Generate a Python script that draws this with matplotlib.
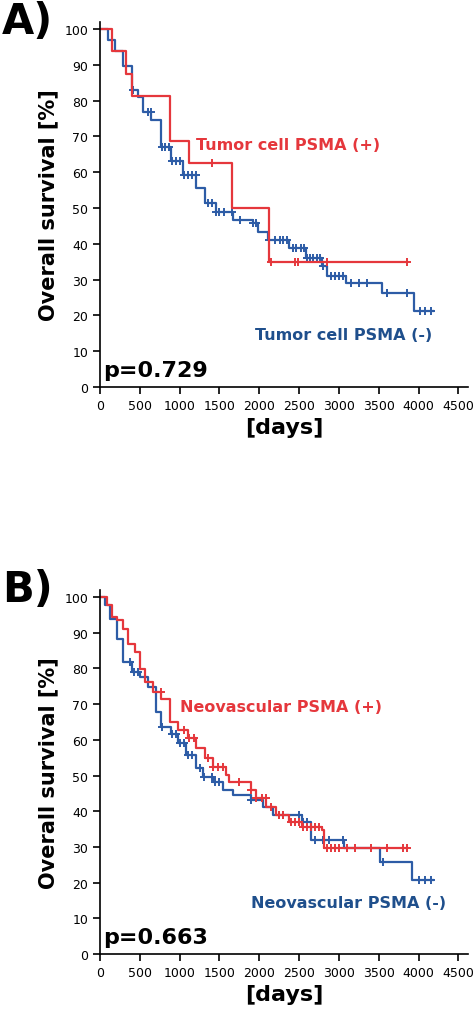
import numpy as np
import matplotlib.pyplot as plt

RED = "#E5373C"
BLUE = "#2D5CA6"
BLUE_TXT = "#1F4F8C"

# Panel A: tumor cell PSMA
a_pos_t = [0, 146, 325, 396, 875, 1112, 1658, 2125, 3850]
a_pos_s = [100, 93.75, 87.5, 81.25, 68.75, 62.5, 50, 35, 35]
a_pos_cens = [1408, 2150, 2450, 2480, 2850, 3850]

a_neg_t = [0, 100, 187, 292, 396, 479, 542, 646, 771, 896, 1042, 1208, 1312, 1458,
           1667, 1917, 1979, 2104, 2375, 2583, 2792, 2854, 3083, 3542, 3938, 4175]
a_neg_s = [100, 97, 93.8, 89.8, 83, 81, 76.8, 74.5, 67, 63, 59.2, 55.5, 51.3, 49,
           46.7, 45.7, 43.4, 41, 38.8, 36, 33.7, 30.9, 29, 26.3, 21.2, 21.2]
a_neg_cens = [420, 600, 640, 780, 820, 860, 900, 950, 1000, 1050, 1100, 1150, 1200,
              1350, 1400, 1460, 1500, 1560, 1660, 1760, 1920, 1960, 2120, 2200, 2260,
              2300, 2350, 2420, 2460, 2520, 2560, 2600, 2640, 2680, 2720, 2760, 2800,
              2900, 2950, 3000, 3050, 3150, 3250, 3350, 3600, 3600, 3850, 4020, 4080, 4150]

# Panel B: neovascular PSMA
b_pos_t = [0, 83, 146, 208, 292, 354, 437, 500, 562, 667, 771, 875, 979, 1104, 1208,
           1312, 1417, 1583, 1625, 1896, 1958, 2083, 2208, 2375, 2542, 2792, 2812, 3850]
b_pos_s = [100, 97.7, 94.4, 93.5, 91.1, 86.9, 84.6, 79.9, 76.2, 73.4, 71.5, 65, 62.7,
           60.4, 57.6, 54.8, 52.4, 50.1, 48.2, 45.9, 43.6, 41.2, 38.9, 37, 35.6, 34.7,
           29.6, 29.6]
b_pos_cens = [760, 1050, 1120, 1180, 1360, 1420, 1480, 1550, 1750, 1900, 1960, 2030,
              2080, 2150, 2250, 2300, 2400, 2450, 2500, 2550, 2600, 2650, 2700, 2750,
              2850, 2900, 2950, 3000, 3100, 3200, 3400, 3600, 3800, 3850]

b_neg_t = [0, 62, 125, 208, 292, 396, 500, 604, 708, 771, 896, 979, 1083, 1208, 1292,
           1417, 1542, 1667, 1896, 2042, 2167, 2542, 2646, 3062, 3521, 3917, 4175]
b_neg_s = [100, 97.7, 93.9, 88.3, 81.8, 79, 77.6, 74.8, 67.8, 63.6, 61.7, 59, 55.7,
           52, 49.6, 48.2, 45.9, 44.5, 43.1, 41.2, 38.9, 37, 31.9, 29.6, 25.9, 20.7, 20.7]
b_neg_cens = [380, 430, 480, 780, 900, 950, 1000, 1050, 1100, 1150, 1250, 1300, 1400,
              1450, 1500, 1900, 2250, 2300, 2500, 2550, 2600, 2700, 2800, 2870, 3050,
              3550, 4000, 4080, 4150]

x_ticks = [0, 500, 1000, 1500, 2000, 2500, 3000, 3500, 4000, 4500]
y_ticks = [0, 10, 20, 30, 40, 50, 60, 70, 80, 90, 100]


def km(ax, t, s, cens, color):
    ax.step(t, s, where="post", color=color, lw=1.6)
    idx = np.searchsorted(t, cens, side="right") - 1
    ax.plot(cens, np.array(s)[idx], "+", color=color, ms=6, mew=1.4, ls="none")


fig = plt.figure(figsize=(4.74, 10.2), dpi=100)
W, H = 474, 1020
panels = [
    (30, 388, "A)", (a_pos_t, a_pos_s, a_pos_cens), (a_neg_t, a_neg_s, a_neg_cens),
     "Tumor cell PSMA (+)", (1210, 66.5), "Tumor cell PSMA (-)", (1940, 13.3), "p=0.729"),
    (598, 955, "B)", (b_pos_t, b_pos_s, b_pos_cens), (b_neg_t, b_neg_s, b_neg_cens),
     "Neovascular PSMA (+)", (1000, 68), "Neovascular PSMA (-)", (1900, 13.3), "p=0.663"),
]
for top100, bot0, lab, pos, neg, ptxt, ppos, ntxt, npos, pval in panels:
    ymax = 102
    top = top100 - (bot0 - top100) * 0.02
    ax = fig.add_axes([100 / W, 1 - bot0 / H, 368 / W, (bot0 - top) / H])
    km(ax, *neg, BLUE)
    km(ax, *pos, RED)
    ax.set_xlim(0, 4620)
    ax.set_ylim(0, ymax)
    ax.set_xticks(x_ticks)
    ax.set_yticks(y_ticks)
    ax.tick_params(labelsize=9, length=5, width=1.2)
    for sp in ["top", "right"]:
        ax.spines[sp].set_visible(False)
    for sp in ["left", "bottom"]:
        ax.spines[sp].set_linewidth(1.2)
    ax.set_xlabel("[days]", fontsize=16, fontweight="bold", labelpad=4)
    ax.set_ylabel("Overall survival [%]", fontsize=15, fontweight="bold", labelpad=4)
    ax.text(ppos[0], ppos[1], ptxt, color=RED, fontsize=11.5, fontweight="bold", ha="left")
    ax.text(npos[0], npos[1], ntxt, color=BLUE_TXT, fontsize=11.5, fontweight="bold", ha="left")
    ax.text(40, 3, pval, fontsize=16, fontweight="bold")
    fig.text(2 / W, 1 - (top100 - 8) / H, lab, fontsize=30, fontweight="bold", va="center")

fig.savefig("out.png", dpi=100)
